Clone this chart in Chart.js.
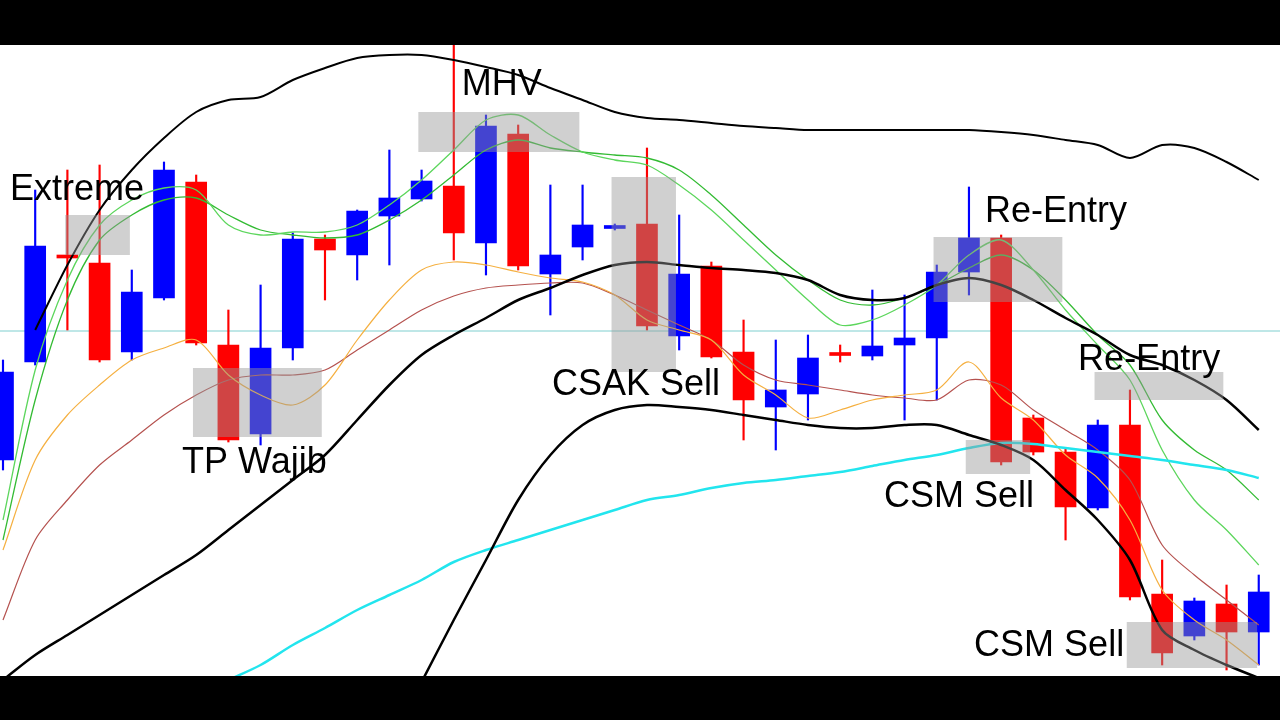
<!DOCTYPE html>
<html><head><meta charset="utf-8">
<script src="https://cdn.jsdelivr.net/npm/chart.js@4/dist/chart.umd.min.js"></script>
<style>
html,body{margin:0;padding:0;background:#000;width:1280px;height:720px;overflow:hidden}
#wrap{position:absolute;left:0;top:45px;width:1280px;height:631px;background:#fff}
</style></head><body>
<div id="wrap"><canvas id="c" width="1280" height="631"></canvas></div>
<script>
const opens  = [240,338,445,437,348,402,518,355,266,352,461,445,484,501,514,457,566,426,453,472,476,364,434,348,293,306,347,344,355,362,428,462,282,248,192,275,106,64,96,68];
const closes = [328,454,442,340,408,530,357,260,352,461,450,489,502,519,467,574,434,445,475,474,374,426,343,300,310,342,345,354,362,428,462,238,248,193,275,103,47,99,68,108];
const highs  = [340,510,530,535,430,538,525,390,415,467,465,490,550,530,660,585,575,515,515,476,552,485,438,380,360,365,355,410,405,435,513,465,285,252,280,310,140,102,115,125];
const lows   = [230,335,370,338,340,400,355,258,255,340,400,420,435,499,440,425,430,385,440,470,370,350,342,260,250,280,338,340,280,300,405,235,245,160,190,100,35,60,30,35];
const upperBand = [null,370,435,490,530,562,588,600,603,620,632,642,645,645,640,633,625,612,600,588,582,580,577,574,572,570,570,570,570,570,570,568,565,560,555,542,555,552,538,520];
const midBand   = [20,45,65,85,105,125,145,170,195,220,245,280,315,345,365,382,400,412,425,435,438,435,432,430,427,420,405,400,402,415,422,415,400,382,365,345,335,320,300,270];
const lowerBand = [null,null,null,null,null,null,null,null,null,null,null,null,null,18,80,140,200,245,275,290,295,293,290,285,280,275,272,272,275,275,265,255,240,210,180,140,70,50,35,22];
const ma100     = [null,null,null,null,null,null,null,20,35,55,72,90,105,120,138,150,160,170,180,190,200,205,212,217,220,224,228,234,240,245,252,257,256,252,248,244,240,235,230,222];
const emaFast   = [180,330,420,475,500,512,510,475,465,468,468,475,495,520,550,580,585,565,548,540,535,515,490,460,430,400,375,380,395,415,445,460,430,390,355,320,250,200,170,135];
const emaSlow   = [160,300,400,460,485,500,502,485,470,465,462,465,480,500,525,550,560,552,548,545,542,530,505,475,445,420,400,395,402,415,432,445,430,400,365,335,280,250,230,200];
const emaOrange = [150,240,285,315,340,352,360,325,305,295,315,360,400,430,438,435,428,422,418,405,380,370,360,325,305,282,290,300,305,310,338,302,280,245,222,180,110,80,60,35];
const emaBrown  = [80,160,200,235,260,285,305,320,325,325,330,350,370,390,404,412,415,417,417,405,390,375,360,335,320,315,310,305,302,300,320,315,290,270,250,220,155,125,100,75];
const levelLine = 369;
const boxes = [[1.93,3.94,485,445],[5.9,9.9,332,263],[12.9,17.9,588,548],[18.9,20.9,523,328],[28.9,32.9,463,398],[33.9,37.9,328,300],[29.9,31.9,260,226],[34.9,38.95,78,32]];
const labelTexts = ["Extreme","TP Wajib","MHV","CSAK Sell","Re-Entry","Re-Entry","CSM Sell","CSM Sell"];
const labelX = [0.22,5.56,14.25,17.05,30.5,33.39,27.36,30.16];
const labelY = [510,237,615,315,488,340,203,54];

const idx = opens.map((_,i)=>i);
const body = opens.map((o,i)=>{let a=Math.min(o,closes[i]),b=Math.max(o,closes[i]); if(b-a<3){const m=(a+b)/2;a=m-1.5;b=m+1.5;} return {x:i,y:[a,b]};});
const wick = idx.map(i=>({x:i,y:[lows[i],highs[i]]}));
const cols = idx.map(i=>closes[i]>=opens[i]?'#0000ff':'#ff0000');
const line=(d,c,w)=>({type:'line',data:d.map((v,i)=>({x:i,y:v})),borderColor:c,borderWidth:w,pointRadius:0,tension:0.3,spanGaps:false,order:0});

const overlay={id:'overlay',
 beforeDatasetsDraw(ch){const {ctx,scales:{x,y}}=ch;const py=y.getPixelForValue(levelLine);ctx.save();ctx.strokeStyle='#7fcfcf';ctx.lineWidth=1;ctx.beginPath();ctx.moveTo(0,py);ctx.lineTo(1280,py);ctx.stroke();ctx.restore();},
 afterDatasetsDraw(ch){const {ctx,scales:{x,y}}=ch;ctx.save();
  ctx.fillStyle='rgba(150,150,150,0.45)';
  boxes.forEach(b=>{const x1=x.getPixelForValue(b[0]),x2=x.getPixelForValue(b[1]),y1=y.getPixelForValue(b[2]),y2=y.getPixelForValue(b[3]);ctx.fillRect(x1,y1,x2-x1,y2-y1);});
  ctx.fillStyle='#000';ctx.font='36px "Liberation Sans", Arial, sans-serif';ctx.textBaseline='middle';ctx.textAlign='left';
  labelTexts.forEach((t,i)=>ctx.fillText(t,x.getPixelForValue(labelX[i]),y.getPixelForValue(labelY[i])));
  ctx.restore();}};

new Chart(document.getElementById('c'),{
 data:{datasets:[
  line(upperBand,'#000',2),line(midBand,'#000',2.5),line(lowerBand,'#000',2.5),
  line(ma100,'#22e5ee',2.5),line(emaFast,'#5cd65c',1.3),line(emaSlow,'#33bb33',1.3),
  line(emaOrange,'#f5b041',1.2),line(emaBrown,'#b5524f',1.2),
  {type:'bar',data:body,backgroundColor:cols,barThickness:21,grouped:false,order:1},
  {type:'bar',data:wick,backgroundColor:cols,barThickness:1.5,grouped:false,order:2}
 ]},
 options:{responsive:false,animation:false,layout:{padding:0},
  plugins:{legend:{display:false},tooltip:{enabled:false}},
  scales:{x:{type:'linear',display:false,min:-0.093,max:39.66,offset:false},
          y:{display:false,min:24,max:655}}},
 plugins:[overlay]});
</script></body></html>
